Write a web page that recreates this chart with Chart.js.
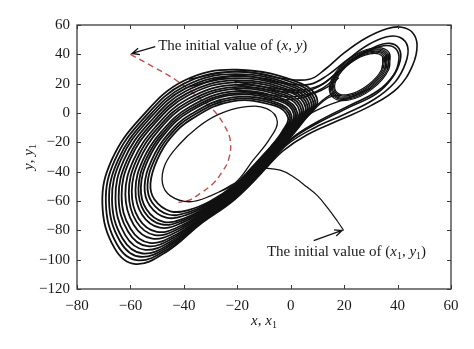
<!DOCTYPE html>
<html>
<head>
<meta charset="utf-8">
<script src="https://cdn.jsdelivr.net/npm/chart.js@4.4.1/dist/chart.umd.min.js"></script>
<style>
  html, body { margin: 0; background: #fff; }
</style>
</head>
<body>
<canvas id="attractor" width="474" height="349"></canvas>
<script>
// 坐标轴刻度
const xTicks = [-80, -60, -40, -20, 0, 20, 40, 60];
const yTicks = [-120, -100, -80, -60, -40, -20, 0, 20, 40, 60];

// 左翼：最内侧细环
const leftThinLoop = [[-21,-48],[-30,-56.5],[-38,-60.5],[-45,-56.5],[-48,-48],[-47,-35],[-42,-22],[-35,-10],[-27,-1],[-18,4],[-9,3],[-5,-6],[-8,-18],[-14,-32],[-21,-48],[-30,-56.5]];

// 左翼：由内到外的轨道环
const leftLoops = [
  [[-15.5,-39],[-7.5,-23],[-3,-12],[-1,-3],[-6,5],[-22,8],[-37,-4],[-45,-17],[-50,-32],[-52.5,-48],[-51,-59],[-45,-67],[-38,-66],[-30,-60],[-21,-49],[-15.5,-39],[-7.5,-23]],
  [[-15.2,-39],[-7.2,-22.9],[-2.5,-11.6],[-0.3,-2.3],[-5.4,5.9],[-21.9,9.3],[-37.2,-2.4],[-45.7,-16.2],[-51,-32],[-53.6,-48.8],[-51.9,-61],[-45.8,-69.2],[-38.5,-67.7],[-30.2,-61],[-21,-49.6],[-15.2,-39],[-7.2,-22.9]],
  [[-14.8,-39],[-6.9,-22.9],[-2,-11.2],[0.3,-1.7],[-4.8,6.8],[-21.8,10.6],[-37.4,-0.9],[-46.3,-15.3],[-52,-32],[-54.7,-49.7],[-52.8,-63],[-46.6,-71.3],[-39,-69.4],[-30.5,-61.9],[-21,-50.2],[-14.8,-39],[-6.9,-22.9]],
  [[-14.4,-39],[-6.5,-22.8],[-1.4,-10.6],[1.2,-0.8],[-4,8],[-21.6,12.3],[-37.6,1.2],[-47.2,-14.2],[-53.4,-32],[-56.1,-50.8],[-54,-65.6],[-47.6,-74.2],[-39.6,-71.6],[-30.8,-63.2],[-21,-51],[-14.4,-39],[-6.5,-22.8]],
  [[-14.1,-39],[-6.3,-22.8],[-1,-10.3],[1.8,-0.3],[-3.5,8.8],[-21.5,13.4],[-37.8,2.5],[-47.8,-13.5],[-54.3,-32],[-57,-51.5],[-54.8,-67.3],[-48.3,-76],[-40,-73],[-31,-64],[-21,-51.5],[-14.1,-39],[-6.3,-22.8]],
  [[-13.8,-39],[-6,-22.7],[-0.5,-9.8],[2.4,0.4],[-2.9,9.7],[-21.4,14.7],[-37.9,4.1],[-48.4,-12.7],[-55.3,-32],[-58.1,-52.3],[-55.7,-69.2],[-49,-78.2],[-40.5,-74.7],[-31.2,-65],[-21,-52.1],[-13.8,-39],[-6,-22.7]],
  [[-13.4,-39],[-5.6,-22.6],[0.1,-9.3],[3.3,1.3],[-2.1,10.9],[-21.2,16.4],[-38.2,6.1],[-49.3,-11.5],[-56.6,-32],[-59.5,-53.5],[-56.9,-71.9],[-50.1,-81],[-41.1,-76.9],[-31.6,-66.2],[-21,-52.9],[-13.4,-39],[-5.6,-22.6]],
  [[-13,-39],[-5.3,-22.6],[0.6,-8.9],[4,2],[-1.5,11.8],[-21.1,17.7],[-38.4,7.7],[-50,-10.7],[-57.7,-32],[-60.6,-54.3],[-57.8,-73.9],[-50.9,-83.2],[-41.6,-78.6],[-31.8,-67.2],[-21,-53.5],[-13,-39],[-5.3,-22.6]],
  [[-12.6,-39],[-4.9,-22.5],[1.2,-8.4],[4.7,2.7],[-0.8,12.8],[-21,19.2],[-38.6,9.5],[-50.7,-9.7],[-58.8,-32],[-61.9,-55.3],[-58.8,-76.2],[-51.8,-85.7],[-42.2,-80.6],[-32.1,-68.3],[-21,-54.2],[-12.6,-39],[-4.9,-22.5]],
  [[-12.2,-39],[-4.5,-22.4],[1.8,-7.8],[5.6,3.6],[0,14],[-20.8,20.9],[-38.8,11.6],[-51.6,-8.6],[-60.2,-32],[-63.3,-56.4],[-60,-78.8],[-52.8,-88.6],[-42.8,-82.8],[-32.4,-69.6],[-21,-55],[-12.2,-39],[-4.5,-22.4]],
  [[-11.9,-39],[-4.2,-22.3],[2.3,-7.4],[6.3,4.3],[0.6,14.9],[-20.7,22.2],[-39,13.2],[-52.3,-7.8],[-61.2,-32],[-64.4,-57.2],[-60.9,-80.8],[-53.6,-90.8],[-43.3,-84.5],[-32.6,-70.6],[-21,-55.6],[-11.9,-39],[-4.2,-22.3]],
  [[-11.5,-39],[-3.9,-22.3],[2.8,-6.9],[7,5],[1.3,16],[-20.5,23.7],[-39.2,15],[-53,-6.8],[-62.4,-32],[-65.6,-58.2],[-62,-83.1],[-54.5,-93.3],[-43.8,-86.4],[-32.9,-71.7],[-21,-56.3],[-11.5,-39],[-3.9,-22.3]],
  [[-11.1,-39],[-3.5,-22.2],[3.4,-6.4],[7.8,5.8],[2,17],[-20.4,25.2],[-39.4,16.8],[-53.8,-5.8],[-63.6,-32],[-66.9,-59.2],[-63,-85.4],[-55.4,-95.8],[-44.4,-88.4],[-33.2,-72.8],[-21,-57],[-11.1,-39],[-3.5,-22.2]],
  [[-10.8,-39],[-3.2,-22.1],[3.9,-6],[8.5,6.5],[2.6,17.9],[-20.3,26.5],[-39.6,18.4],[-54.5,-5],[-64.6,-32],[-68,-60],[-63.9,-87.4],[-56.2,-98],[-44.9,-90.1],[-33.4,-73.8],[-21,-57.6],[-10.8,-39],[-3.2,-22.1]],
  [[-10.4,-39],[-2.9,-22.1],[4.4,-5.5],[9.2,7.2],[3.3,19],[-20.1,28],[-39.8,20.2],[-55.2,-4],[-65.8,-32],[-69.2,-61],[-65,-89.7],[-57.1,-100.5],[-45.4,-92],[-33.7,-74.9],[-21,-58.3],[-10.4,-39],[-2.9,-22.1]],
  [[-10,-39],[-2.5,-22],[5,-5],[10,8],[4,20],[-20,29.5],[-40,22],[-56,-3],[-67,-32],[-70.5,-62],[-66,-92],[-58,-103],[-46,-94],[-34,-76],[-21,-59],[-10,-39],[-2.5,-22]]
];

// 右翼：内侧密集椭圆环
const rightInnerLoops = [
  [[34.4,38.4],[34,29.5],[28.8,18.9],[21.8,12.7],[17,14.6],[17.3,23.5],[22.5,34.2],[29.6,40.3],[34.4,38.4],[34,29.5]],
  [[34.9,39],[34.5,29.5],[29.1,18.3],[21.7,11.9],[16.7,14],[16.9,23.5],[22.4,34.7],[29.8,41.1],[34.9,39],[34.5,29.5]],
  [[35.4,39.6],[35.1,29.6],[29.4,17.8],[21.7,11.1],[16.3,13.4],[16.5,23.5],[22.2,35.3],[30,41.9],[35.4,39.6],[35.1,29.6]],
  [[35.8,40.1],[35.6,29.6],[29.7,17.2],[21.6,10.3],[16,12.9],[16.2,23.4],[22.1,35.8],[30.3,42.7],[35.8,40.1],[35.6,29.6]],
  [[36.3,40.7],[36.2,29.7],[30,16.7],[21.6,9.5],[15.6,12.3],[15.8,23.4],[21.9,36.4],[30.5,43.5],[36.3,40.7],[36.2,29.7]],
  [[36.8,41.3],[36.7,29.7],[30.3,16.1],[21.5,8.7],[15.3,11.7],[15.4,23.4],[21.8,36.9],[30.7,44.3],[36.8,41.3],[36.7,29.7]]
];

// 右翼：外侧大环（由带状区下端绕出，回到左翼顶部）
const rightOuterLoops = [
  [[-9.5,-38],[-3,-26],[6,-15],[18,-5],[30,5],[40,17],[45.5,32],[47.3,46],[45.5,55],[41.5,58.5],[36,57.5],[28,51],[20,41],[13,30],[7,23],[-3,23.5],[-20,28.5],[-38,23]],
  [[-8.5,-35],[-1,-21],[9,-10],[20,-1],[31,9],[39,21],[43,34],[43.8,45],[41,51.5],[36,52],[29,46.5],[21,36],[14,26],[7,19.5],[-3,20.5],[-20,25.5],[-38,18]],
  [[-7.5,-32],[1,-17],[11,-6],[22,4],[32,13],[38,24],[41,36],[40.5,44],[37,47.5],[31.5,45],[24,37.5],[17,27],[11,19],[3,15.5],[-7,17],[-21,21.5]],
  [[-7,-30],[2,-15],[12,-4],[23,6],[32.5,15],[38.5,26],[40.5,36.5],[39.5,43.5],[36,46],[30.5,43.5],[23.5,36],[16.5,26],[10.5,18],[3,14],[-7,15.5],[-21,19.5]]
];

// 两翼之间的连接段
const neckPaths = [
  [[-12.5,-40],[-5.5,-25],[1,-12],[7,0],[11.5,8],[15,12.5],[17,14]],
  [[-11.8,-40],[-4.7,-25],[2,-11],[8,1],[12.5,8.5],[15.5,11.5],[19,12]],
  [[22,34],[18,28],[15.5,22],[12,17],[7,13],[0,11],[-8,12.5],[-21,16]],
  [[18,24],[14,18],[9,13.5],[3,10],[-5,9],[-14,11]],
  [[30,17],[22,10.5],[13,4.5],[6,-2],[0,-12],[-5,-24],[-10,-36]]
];

// (x, y) 的初始段（虚线）
const dashedPath = [[-60,40],[-51,31],[-43,22.5],[-35.5,12],[-29,2],[-25,-8],[-22.6,-19],[-23.3,-32],[-26,-41],[-29,-48],[-34,-55],[-38,-59.5],[-42,-61]];

// 指向 (x1, y1) 初值的引线
const leaderPath = [[-11.3,-37.3],[-3.9,-39],[1.1,-43.7],[6.1,-50.5],[9.9,-56.2],[13.6,-64.2],[17.3,-73.3],[19.8,-80.1]];

// 箭头：[起点, 箭尖]
const arrows = [
  [[-50.7,45.2],[-59.4,40.6]],
  [[8.6,-87],[19.2,-80.1]]
];

// 注释文字的左下角位置
const noteAnchors = [[-49.6,42.9],[-8.9,-97.5]];
const noteTexts = [
  [{t:'The initial value of ('},{t:'x',it:true},{t:', '},{t:'y',it:true},{t:')'}],
  [{t:'The initial value of ('},{t:'x',it:true},{t:'1',sub:true},{t:', '},{t:'y',it:true},{t:'1',sub:true},{t:')'}]
];

const SERIF = '"Liberation Serif", "DejaVu Serif", serif';

function toXY(pts) {
  return pts.map(p => ({ x: p[0], y: p[1] }));
}

function lineSet(pts, color, width, dash) {
  return {
    data: toXY(pts),
    showLine: true,
    pointRadius: 0,
    borderColor: color,
    borderWidth: width,
    borderDash: dash || [],
    tension: 0.4,
    fill: false
  };
}

// 绘制带斜体/下标的文字，返回宽度
function drawRich(ctx, segs, x, y, size, measureOnly) {
  let cx = x;
  segs.forEach(s => {
    const fs = s.sub ? Math.round(size * 0.68) : size;
    ctx.font = (s.it ? 'italic ' : '') + fs + 'px ' + SERIF;
    if (!measureOnly) ctx.fillText(s.t, cx, s.sub ? y + size * 0.22 : y);
    cx += ctx.measureText(s.t).width;
  });
  return cx - x;
}

function drawArrow(ctx, x0, y0, x1, y1) {
  const ang = Math.atan2(y1 - y0, x1 - x0);
  const len = 8, spread = 0.42;
  ctx.beginPath();
  ctx.moveTo(x0, y0);
  ctx.lineTo(x1, y1);
  ctx.moveTo(x1 - len * Math.cos(ang - spread), y1 - len * Math.sin(ang - spread));
  ctx.lineTo(x1, y1);
  ctx.lineTo(x1 - len * Math.cos(ang + spread), y1 - len * Math.sin(ang + spread));
  ctx.stroke();
}

// 边框、内向刻度、箭头与文字
const overlayPlugin = {
  id: 'overlay',
  afterDraw(chart) {
    const ctx = chart.ctx;
    const a = chart.chartArea;
    const sx = chart.scales.x, sy = chart.scales.y;
    ctx.save();

    ctx.strokeStyle = '#3a3a3a';
    ctx.lineWidth = 1.3;
    ctx.strokeRect(a.left, a.top, a.right - a.left, a.bottom - a.top);

    ctx.lineWidth = 1;
    ctx.beginPath();
    xTicks.forEach(v => {
      const p = Math.round(sx.getPixelForValue(v)) + 0.5;
      ctx.moveTo(p, a.bottom); ctx.lineTo(p, a.bottom - 4);
      ctx.moveTo(p, a.top); ctx.lineTo(p, a.top + 4);
    });
    yTicks.forEach(v => {
      const p = Math.round(sy.getPixelForValue(v)) + 0.5;
      ctx.moveTo(a.left, p); ctx.lineTo(a.left + 4, p);
      ctx.moveTo(a.right, p); ctx.lineTo(a.right - 4, p);
    });
    ctx.stroke();

    ctx.strokeStyle = '#111';
    ctx.lineWidth = 1.3;
    arrows.forEach(ar => {
      drawArrow(ctx,
        sx.getPixelForValue(ar[0][0]), sy.getPixelForValue(ar[0][1]),
        sx.getPixelForValue(ar[1][0]), sy.getPixelForValue(ar[1][1]));
    });

    ctx.fillStyle = '#1a1a1a';
    ctx.textBaseline = 'alphabetic';
    ctx.textAlign = 'left';
    noteTexts.forEach((segs, i) => {
      drawRich(ctx, segs, sx.getPixelForValue(noteAnchors[i][0]), sy.getPixelForValue(noteAnchors[i][1]), 15);
    });

    // 坐标轴标题
    const xTitle = [{t:'x',it:true},{t:', '},{t:'x',it:true},{t:'1',sub:true}];
    const yTitle = [{t:'y',it:true},{t:', '},{t:'y',it:true},{t:'1',sub:true}];
    const cx = (a.left + a.right) / 2;
    const wx = drawRich(ctx, xTitle, 0, 0, 15, true);
    drawRich(ctx, xTitle, cx - wx / 2, 325, 15);
    const wy = drawRich(ctx, yTitle, 0, 0, 15, true);
    ctx.translate(33, (a.top + a.bottom) / 2);
    ctx.rotate(-Math.PI / 2);
    drawRich(ctx, yTitle, -wy / 2, 0, 15);

    ctx.restore();
  }
};

const datasets = [];
datasets.push(lineSet(leftThinLoop, '#111', 1.3));
leftLoops.forEach(l => datasets.push(lineSet(l, '#111', 1.8)));
rightInnerLoops.forEach(l => datasets.push(lineSet(l, '#111', 1.2)));
rightOuterLoops.forEach(l => datasets.push(lineSet(l, '#111', 1.6)));
neckPaths.forEach(l => datasets.push(lineSet(l, '#111', 1.4)));
datasets.push(lineSet(leaderPath, '#111', 1.2));
datasets.push(lineSet(dashedPath, '#c0504d', 1.4, [6, 4]));

const minus = v => String(v).replace('-', '\u2212');

new Chart(document.getElementById('attractor'), {
  type: 'scatter',
  data: { datasets: datasets },
  options: {
    responsive: false,
    animation: false,
    devicePixelRatio: 1,
    layout: { padding: { left: 0, right: 23, top: 25, bottom: 0 } },
    plugins: { legend: { display: false }, tooltip: { enabled: false } },
    scales: {
      x: {
        type: 'linear',
        min: -80, max: 60,
        afterFit: s => { s.height = 60; },
        afterBuildTicks: s => { s.ticks = xTicks.map(v => ({ value: v })); },
        grid: { display: false, drawTicks: false },
        border: { display: false },
        ticks: { padding: 8, color: '#1a1a1a', font: { family: SERIF, size: 15 }, callback: minus, maxRotation: 0 }
      },
      y: {
        type: 'linear',
        min: -120, max: 60,
        afterFit: s => { s.width = 77; },
        afterBuildTicks: s => { s.ticks = yTicks.map(v => ({ value: v })); },
        grid: { display: false, drawTicks: false },
        border: { display: false },
        ticks: { padding: 7, color: '#1a1a1a', font: { family: SERIF, size: 15 }, callback: minus }
      }
    }
  },
  plugins: [overlayPlugin]
});
</script>
</body>
</html>
